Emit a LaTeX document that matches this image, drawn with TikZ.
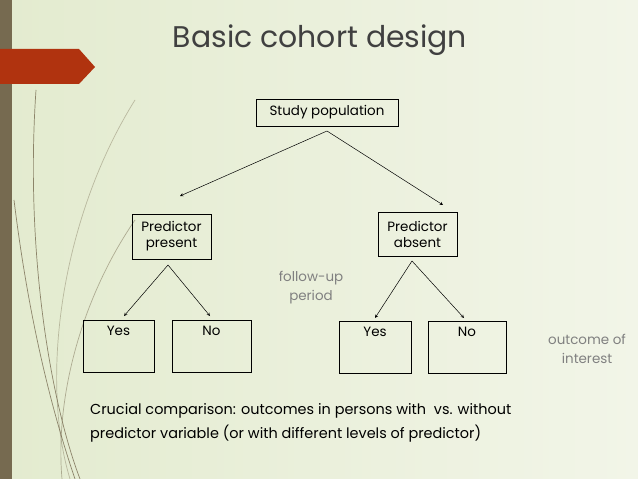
\documentclass[tikz,border=0pt]{standalone}
\usepackage{fontspec}
\setmainfont{Poppins}
\definecolor{bgA}{HTML}{E3EBCF}
\definecolor{bgB}{HTML}{F2F5E8}
\definecolor{barc}{HTML}{766A50}
\definecolor{redc}{HTML}{B0330F}
\begin{document}
\begin{tikzpicture}[x=1bp,y=-1bp,
  box/.style={draw,line width=0.6pt,fill=none,font=\fontsize{13.5}{16}\selectfont,align=center,inner sep=0pt},
  arr/.style={-stealth,line width=0.5pt},
  deco/.style={draw=barc,line width=0.7pt,opacity=0.8}]
\useasboundingbox (0,0) rectangle (638,479);
\shade[left color=bgA, right color=bgB] (0,0) rectangle (638,479);
\fill[barc] (0,0) rectangle (12,479);
\fill[redc] (0,49) -- (79,49) -- (95,67) -- (79,84) -- (0,84) -- cycle;
% decorative curves
\draw[deco] (36,90) .. controls (25,250) and (50,400) .. (80,479);
\draw[deco] (14,200) .. controls (30,330) and (55,420) .. (75,479);
\draw[deco,opacity=0.4] (135,100) .. controls (60,220) and (40,380) .. (70,479);
\draw[deco,opacity=0.5] (135,220) .. controls (80,300) and (55,400) .. (62,479);
\node[font=\fontsize{30}{36}\selectfont,text=black!75] (title) at (320,40) {Basic cohort design};
\node[box,minimum width=142bp,minimum height=27bp] (sp) at (327,112.5) {Study population};
\node[box,minimum width=79bp,minimum height=45bp] (pp) at (171.5,236.5) {Predictor\\present};
\node[box,minimum width=79bp,minimum height=44bp] (pa) at (417.5,234) {Predictor\\absent};
\tikzset{ob/.style={box,minimum width=#1,minimum height=52bp,text depth=33bp,text height=12bp}}
\node[ob=71bp] (y1) at (118.5,346) {Yes};
\node[ob=79bp] (n1) at (211.5,346) {No};
\node[ob=72bp] (y2) at (375,347) {Yes};
\node[ob=78bp] (n2) at (467,347) {No};
\coordinate (a1) at (180,196); \coordinate (a2) at (443,205);
\draw[arr] (327,131) -- (a1);
\draw[arr] (327,131) -- (a2);
\coordinate (p0) at (168,265); \coordinate (pa0) at (412,261);
\coordinate (t1) at (124,316); \coordinate (t2) at (210,316);
\coordinate (t3) at (375,318); \coordinate (t4) at (464,318);
\draw[arr] (p0) -- (t1); \draw[arr] (p0) -- (t2);
\draw[arr] (pa0) -- (t3); \draw[arr] (pa0) -- (t4);
\node[font=\fontsize{13.5}{19}\selectfont,text=black!50,align=center] (fu) at (311,288) {follow-up\\period};
\node[font=\fontsize{13.5}{19}\selectfont,text=black!50,align=center,anchor=north west,inner sep=0pt] (oi) at (548,334) {outcome of\\interest};
\node[font=\fontsize{14.5}{24}\selectfont,anchor=north west,align=left,inner sep=0pt] (cc) at (90,403) {Crucial comparison: outcomes in persons with\ \ vs. without\\predictor variable (or with different levels of predictor)};
\end{tikzpicture}
\end{document}
